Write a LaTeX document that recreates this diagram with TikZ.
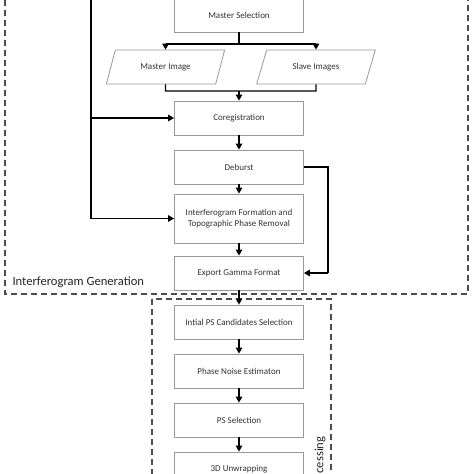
\documentclass[tikz,border=0pt]{standalone}
\usepackage{fontspec}
\setmainfont{Carlito}
\usetikzlibrary{shapes.geometric,arrows.meta}
\begin{document}
\begin{tikzpicture}[x=1pt,y=-1pt,
  procbox/.style={draw=black!40,line width=0.8pt,fill=white,minimum width=129pt,minimum height=34pt,inner sep=1pt,font=\fontsize{9}{11}\selectfont,text=black!80,align=center},
  iobox/.style={trapezium,trapezium left angle=63.4,trapezium right angle=116.6,trapezium stretches=true,draw=black!40,line width=0.8pt,fill=white,minimum width=119pt,minimum height=34pt,inner sep=1pt,font=\fontsize{9}{11}\selectfont,text=black!80},
  conn/.style={line width=1.3pt,black},
  arr/.style={conn,-{Triangle[length=6pt,width=6.5pt]}},
  group/.style={draw=black!70,line width=1.2pt,dash pattern=on 6pt off 4pt},
  grouplabel/.style={font=\fontsize{12.6}{15}\selectfont,text=black!85}
]
\useasboundingbox (0,0) rectangle (474,474);
% group frames
\draw[group] (5,-10) rectangle (468,294);
\draw[group] (152,299) rectangle (331,520);
\node[grouplabel,anchor=west] (lbl) at (9,282) {Interferogram Generation};
\node[grouplabel,rotate=90,anchor=east] (lbl2) at (320,433) {cessing};
% nodes
\node[procbox] (ms) at (239,15) {Master Selection};
\node[iobox] (mi) at (165.5,67) {Master Image};
\node[iobox] (si) at (316,67) {Slave Images};
\node[procbox] (co) at (239,118) {Coregistration};
\node[procbox] (db) at (239,167) {Deburst};
\node[procbox,minimum height=49pt] (ifg) at (239,218.5) {Interferogram Formation and\\Topographic Phase Removal};
\node[procbox] (ex) at (239,273) {Export Gamma Format};
\node[procbox] (ips) at (239,322) {Intial PS Candidates Selection};
\node[procbox] (pn) at (239,371) {Phase Noise Estimaton};
\node[procbox] (pss) at (239,420) {PS Selection};
\node[procbox] (uw) at (239,469) {3D Unwrapping};
% coordinates
\coordinate (ltop) at (91,-12);
\coordinate (lco) at (91,118);
\coordinate (lifg) at (91,218.5);
\coordinate (bsplit) at (239,44);
\coordinate (bmi) at (165.5,44);
\coordinate (bsi) at (316,44);
\coordinate (mmi) at (165.5,91);
\coordinate (msi) at (316,91);
\coordinate (mmid) at (239,91);
\coordinate (rdb) at (328,167);
\coordinate (rex) at (328,273);
% connectors
\draw[conn] (ltop) -- (lifg);
\draw[arr] (lifg) -- (ifg.west);
\draw[arr] (lco) -- (co.west);
\draw[conn] (ms.south) -- (bsplit);
\draw[conn] (bmi) -- (bsi);
\draw[arr] (bmi) -- (mi.north);
\draw[arr] (bsi) -- (si.north);
\draw[conn] (mi.south) -- (mmi) -- (msi) -- (si.south);
\draw[arr] (mmid) -- (co.north);
\draw[arr] (co) -- (db);
\draw[arr] (db) -- (ifg);
\draw[arr] (ifg) -- (ex);
\draw[arr] (ex) -- (ips);
\draw[arr] (ips) -- (pn);
\draw[arr] (pn) -- (pss);
\draw[arr] (pss) -- (uw);
\draw[conn] (db.east) -- (rdb) -- (rex);
\draw[arr] (rex) -- (ex.east);
\end{tikzpicture}
\end{document}
